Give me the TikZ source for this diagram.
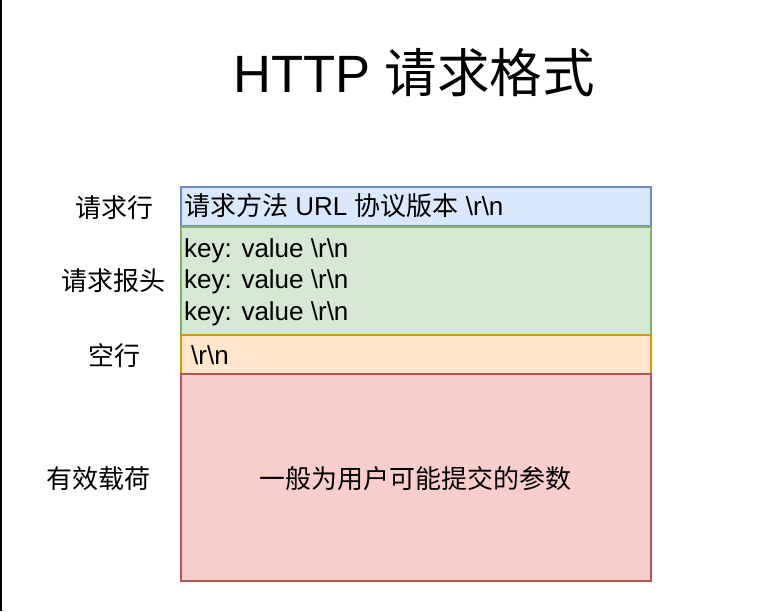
\documentclass[tikz,border=0pt]{standalone}
\usepackage{fontspec}
\setmainfont{Liberation Sans}
\newfontfamily\cjk{Noto Sans CJK SC}
\definecolor{rowFill}{HTML}{DAE8FC}
\definecolor{rowLine}{HTML}{6C8EBF}
\definecolor{headFill}{HTML}{D5E8D4}
\definecolor{headLine}{HTML}{82B366}
\definecolor{blankFill}{HTML}{FFE6CC}
\definecolor{blankLine}{HTML}{D79B00}
\definecolor{loadFill}{HTML}{F8CECC}
\definecolor{loadLine}{HTML}{B85450}
\tikzset{
  part/.style={draw, line width=1.5pt, anchor=north west, minimum width=470pt, inner sep=0pt},
  lbl/.style={font=\fontsize{26}{30}\selectfont\cjk, inner sep=0pt},
  txt/.style={font=\fontsize{26}{31.5}\selectfont, anchor=west, align=left, inner sep=0pt}
}
\begin{document}
\begin{tikzpicture}[x=1pt,y=-1pt]
    \useasboundingbox (0,0) rectangle (761,611);
    \fill[white] (0,0) rectangle (761,611);
    \draw[line width=1.5pt] (0.75,0) -- (0.75,611);
    % Title
    \node[font=\fontsize{52.5}{60}\selectfont, inner sep=0pt] (title) at (414,73) {HTTP {\cjk 请求格式}};
    % Request line
    \node[part, fill=rowFill, draw=rowLine, minimum height=39pt] (row) at (180,186) {};
    \node[txt] (rowtxt) at (184,206) {{\cjk 请求方法} URL {\cjk 协议版本} \textbackslash r\textbackslash n};
    % Headers
    \node[part, fill=headFill, draw=headLine, minimum height=108pt] (head) at (180,226) {};
    \node[txt] (headtxt) at (184,282) {key: value \textbackslash r\textbackslash n\\key: value \textbackslash r\textbackslash n\\key: value \textbackslash r\textbackslash n};
    % Blank line
    \node[part, fill=blankFill, draw=blankLine, minimum height=39pt] (blank) at (180,334) {};
    \node[txt] (blanktxt) at (191,355) {\textbackslash r\textbackslash n};
    % Payload
    \node[part, fill=loadFill, draw=loadLine, minimum height=207pt] (load) at (180,373) {};
    \node[lbl] (loadtxt) at (415,479) {一般为用户可能提交的参数};
    % Labels
    \node[lbl] (lrow) at (114,208) {请求行};
    \node[lbl] (lhead) at (113,281) {请求报头};
    \node[lbl] (lblank) at (114,356) {空行};
    \node[lbl] (lload) at (98,479) {有效载荷};
\end{tikzpicture}
\end{document}
